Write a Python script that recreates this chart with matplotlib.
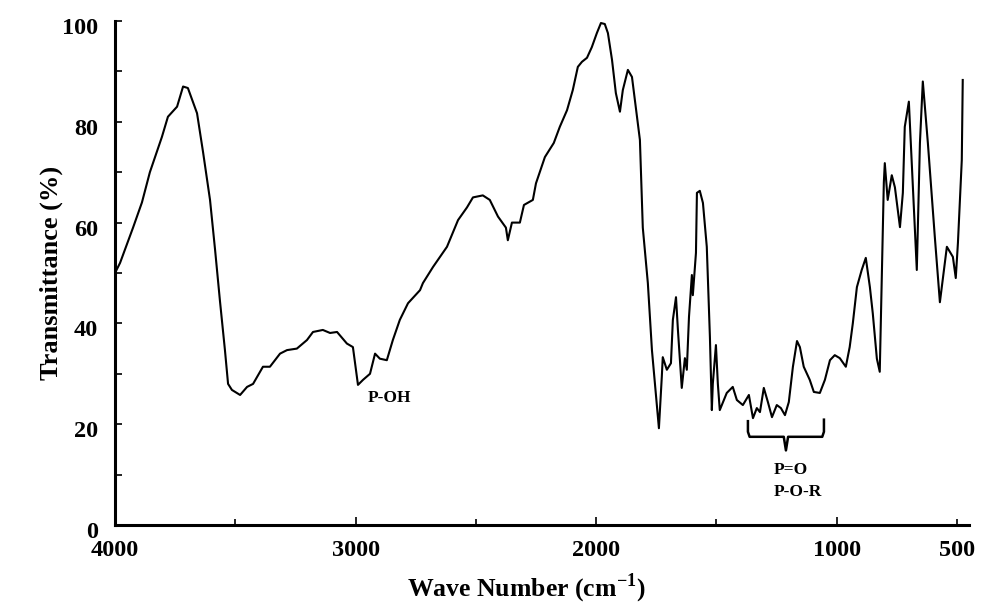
import matplotlib.pyplot as plt
import matplotlib.transforms as mtransforms
from matplotlib.ticker import FixedLocator, FixedFormatter

# spectrum: wave number (cm-1) vs transmittance (%)
wavenumber = [4000, 3979, 3925, 3888, 3855, 3805, 3780, 3742, 3717, 3697,
              3659, 3634, 3605, 3584, 3564, 3543, 3530, 3514, 3480, 3451,
              3426, 3385, 3356, 3314, 3285, 3244, 3202, 3177, 3136, 3106,
              3077, 3036, 3011, 2990, 2969, 2940, 2919, 2899, 2870, 2845,
              2816, 2782, 2732, 2720, 2678, 2620, 2574, 2537, 2512, 2471,
              2442, 2408, 2375, 2367, 2350, 2317, 2300, 2263, 2250, 2213,
              2176, 2151, 2121, 2097, 2076, 2059, 2038, 2018, 1997, 1980,
              1964, 1951, 1934, 1918, 1901, 1889, 1868, 1851, 1839, 1818,
              1806, 1785, 1768, 1752, 1739, 1727, 1723, 1706, 1689, 1681,
              1668, 1660, 1644, 1631, 1623, 1614, 1602, 1598, 1585, 1581,
              1569, 1556, 1540, 1527, 1519, 1515, 1502, 1494, 1486, 1457,
              1432, 1415, 1390, 1365, 1348, 1332, 1319, 1303, 1286, 1269,
              1249, 1232, 1215, 1199, 1182, 1165, 1153, 1137, 1112, 1095,
              1070, 1049, 1028, 1008, 987, 962, 946, 933, 916, 896,
              879, 862, 850, 833, 821, 812, 804, 800, 788, 771,
              758, 737, 725, 717, 700, 683, 667, 654, 642, 621,
              592, 571, 542, 517, 505, 496, 480, 476]
transmittance = [50, 52, 59, 64, 70, 77, 81, 83, 87, 86.7,
                 81.7, 74, 64.5, 54.6, 44.6, 34.7, 28, 26.8, 25.8, 27.4,
                 28, 31.4, 31.4, 34, 34.7, 35, 36.7, 38.3, 38.7, 38.1,
                 38.3, 36, 35.3, 27.8, 28.8, 30, 34, 33, 32.7, 36.7,
                 40.7, 44, 46.6, 48, 51.2, 55.2, 60.5, 63, 65, 65.4,
                 64.5, 61.2, 59, 56.5, 60, 60, 63.5, 64.5, 67.8, 73,
                 75.8, 79, 82.3, 86.3, 90.9, 91.9, 92.7, 94.8, 97.6, 99.6,
                 99.4, 97.6, 92.3, 85.7, 82, 86.3, 90.3, 88.9, 84.3, 76.4,
                 59, 48, 34.7, 26.2, 19.2, 29.4, 33.3, 30.8, 32.1, 40.7,
                 45.2, 38.7, 27.2, 33.1, 30.8, 41.3, 49.6, 45.6, 54, 65.9,
                 66.3, 63.9, 55.2, 37.3, 22.8, 28, 35.7, 28, 22.8, 26.2,
                 27.4, 24.8, 23.8, 25.8, 21.2, 23.2, 22.4, 27.2, 24.4, 21.4,
                 23.8, 23.2, 21.8, 24.4, 31.4, 36.5, 35.3, 31.4, 28.8, 26.4,
                 26.2, 28.8, 32.7, 33.7, 33.1, 31.4, 35.3, 40, 47.2, 50.6,
                 53, 47.2, 42, 33, 30.4, 50, 68, 71.8, 64.5, 69.4,
                 67, 59.1, 65.9, 79, 84, 67, 50.6, 75.8, 88, 75.8,
                 57.1, 44.2, 55.2, 53.2, 49, 56, 72.4, 88.3]

y_major = [0, 20, 40, 60, 80, 100]
y_minor = [10, 30, 50, 70, 90]
x_major = [4000, 3000, 2000, 1000]
x_minor = [3500, 2500, 1500, 500]
x_minor_labels = ['', '', '', '500']

# bracket under the P=O / P-O-R band
brace_x = [1369, 1369, 1362, 1220, 1211, 1202, 1060, 1053, 1053]
brace_y = [20.6, 18.5, 17.5, 17.5, 14.8, 17.5, 17.5, 18.5, 20.9]

plt.rcParams['font.family'] = 'Liberation Serif'
plt.rcParams['font.weight'] = 'bold'
plt.rcParams['mathtext.fontset'] = 'custom'
plt.rcParams['mathtext.rm'] = 'Liberation Serif:bold'
plt.rcParams['mathtext.bf'] = 'Liberation Serif:bold'

fig = plt.figure(figsize=(9.99, 6.09), dpi=100)
ax = fig.add_axes([115 / 999, 1 - 525 / 609, (969 - 115) / 999, (525 - 21) / 609])

ax.plot(wavenumber, transmittance, color='black', lw=1.5)
ax.plot(brace_x, brace_y, color='black', lw=1.8)

ax.set_xlim(4000, 450)
ax.set_ylim(0, 100)

for side in ['top', 'right']:
    ax.spines[side].set_visible(False)
for side in ['left', 'bottom']:
    ax.spines[side].set_linewidth(2.2)

ax.yaxis.set_major_locator(FixedLocator(y_major))
ax.yaxis.set_minor_locator(FixedLocator(y_minor))
ax.xaxis.set_major_locator(FixedLocator(x_major))
ax.xaxis.set_minor_locator(FixedLocator(x_minor))
ax.xaxis.set_minor_formatter(FixedFormatter(x_minor_labels))

ax.tick_params(axis='both', which='both', direction='in', width=1.2,
               labelsize=17.5)
ax.tick_params(axis='y', which='major', length=5, pad=12)
ax.tick_params(axis='y', which='minor', length=5)
ax.tick_params(axis='x', which='major', length=6, pad=11)
ax.tick_params(axis='x', which='minor', length=4, pad=11)

# y labels sit a little below their ticks in the original
shift = mtransforms.ScaledTranslation(0, -5 / 100, fig.dpi_scale_trans)
for lab in ax.get_yticklabels():
    lab.set_transform(lab.get_transform() + shift)

ax.set_ylabel('Transmittance (%)', fontsize=19, fontweight='bold')
ax.yaxis.set_label_coords(-0.061, 0.5)
ax.set_xlabel(r'Wave Number (cm$^{\mathbf{-1}}$)', fontsize=18.5,
              fontweight='bold')
ax.xaxis.set_label_coords(0.482, -0.093)

ax.text(2949, 25.2, 'P-OH', fontsize=12.5, fontweight='bold',
        ha='left', va='center')
ax.text(1261, 10.9, 'P=O', fontsize=12.5, fontweight='bold',
        ha='left', va='center')
ax.text(1261, 6.5, 'P-O-R', fontsize=12.5, fontweight='bold',
        ha='left', va='center')

fig.savefig('out.png', dpi=100)
